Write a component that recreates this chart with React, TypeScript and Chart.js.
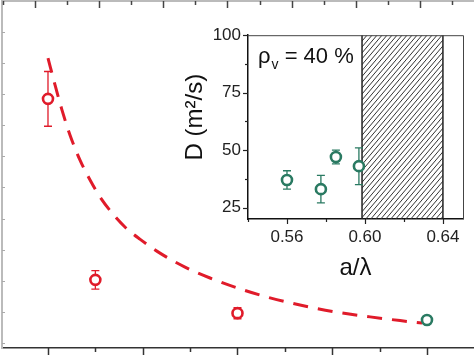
import React, { useEffect, useRef } from "react";
import { Chart, registerables } from "chart.js";

Chart.register(...registerables);

const FONT = "'Liberation Sans', Arial, sans-serif";
const RED = "#e01b2a";
const GREEN = "#2a7a62";

// ---------- main plot data ----------
const redX = [20, 22.5, 30];
const redY = [7.85, 2.03, 0.96];
const redErr = [0.88, 0.3, 0.18];
const greenX = [40];
const greenY = [0.74];
const greenErr = [0];
const fitX = [20.0, 20.37, 20.74, 21.16, 21.69, 22.22, 22.74, 23.38, 24.06, 24.85, 25.91, 27.23, 28.55, 30.13, 31.72, 33.3, 35.15, 37.0, 38.58, 39.74];
const fitY = [9.16, 8.3, 7.49, 6.69, 5.88, 5.24, 4.7, 4.18, 3.73, 3.34, 2.89, 2.44, 2.09, 1.74, 1.45, 1.22, 1.0, 0.84, 0.72, 0.64];
const mainXRange = [17.573, 42.481];
const mainYRange = [-0.161, 10.997];
const topRange = [-1.029, 13.685];

// ---------- inset data ----------
const insetX = [0.56, 0.5774, 0.5851, 0.5969];
const insetY = [37, 33, 47, 43];
const insetErr = [4, 6, 3, 8];
const hatchRange = [0.5985, 0.64];
const insetXRange = [0.54, 0.6503];
const insetYRange = [20, 100];
const insetXLabels = ["0.56", "0.60", "0.64"];
const insetYLabels = [25, 50, 75, 100];

const errorBarPlugin = {
  id: "errorBars",
  beforeDatasetsDraw(chart: any) {
    const { ctx } = chart;
    chart.data.datasets.forEach((ds: any, i: number) => {
      if (!ds.errors) return;
      const meta = chart.getDatasetMeta(i);
      const xs = chart.scales[meta.xAxisID];
      const ys = chart.scales[meta.yAxisID];
      ctx.save();
      ctx.strokeStyle = ds.borderColor;
      ctx.lineWidth = 1.3;
      ds.data.forEach((p: any, j: number) => {
        const e = ds.errors[j];
        if (!e) return;
        const x = xs.getPixelForValue(p.x);
        const y1 = ys.getPixelForValue(p.y - e);
        const y2 = ys.getPixelForValue(p.y + e);
        ctx.beginPath();
        ctx.moveTo(x, y1);
        ctx.lineTo(x, y2);
        ctx.moveTo(x - 4, y1);
        ctx.lineTo(x + 4, y1);
        ctx.moveTo(x - 4, y2);
        ctx.lineTo(x + 4, y2);
        ctx.stroke();
      });
      ctx.restore();
    });
  },
};

type TickSpec = { id: string; side: string; major: number; minor: number; color: string; width: number; isMajor: (v: number) => boolean };

const makeTickPlugin = (specs: TickSpec[]) => ({
  id: "tickMarks",
  afterDraw(chart: any) {
    const { ctx, chartArea: a } = chart;
    specs.forEach((s) => {
      const sc = chart.scales[s.id];
      ctx.save();
      ctx.strokeStyle = s.color;
      ctx.lineWidth = s.width;
      sc.ticks.forEach((t: any) => {
        const v = t.value;
        if (v < sc.min - 1e-9 || v > sc.max + 1e-9) return;
        const len = s.isMajor(v) ? s.major : s.minor;
        const p = Math.round(sc.getPixelForValue(v)) + 0.5;
        ctx.beginPath();
        if (s.side === "bottom-out") {
          ctx.moveTo(p, a.bottom);
          ctx.lineTo(p, a.bottom + len);
        } else if (s.side === "top-in") {
          ctx.moveTo(p, a.top);
          ctx.lineTo(p, a.top + len);
        } else if (s.side === "left-in") {
          ctx.moveTo(a.left, p);
          ctx.lineTo(a.left + len, p);
        } else if (s.side === "left-out") {
          ctx.moveTo(a.left, p);
          ctx.lineTo(a.left - len, p);
        }
        ctx.stroke();
      });
      ctx.restore();
    });
  },
});

const near = (v: number, step: number) => Math.abs(v / step - Math.round(v / step)) < 1e-6;

const hatchPlugin = {
  id: "hatch",
  beforeDatasetsDraw(chart: any) {
    const { ctx, chartArea: a } = chart;
    const xs = chart.scales.x;
    const x1 = xs.getPixelForValue(hatchRange[0]);
    const x2 = xs.getPixelForValue(hatchRange[1]);
    ctx.save();
    ctx.beginPath();
    ctx.rect(x1, a.top, x2 - x1, a.bottom - a.top);
    ctx.clip();
    ctx.strokeStyle = "#333";
    ctx.lineWidth = 1;
    const h = a.bottom - a.top;
    const slope = 0.85;
    ctx.beginPath();
    for (let x = x1 - h * slope - 10; x < x2 + 10; x += 5) {
      ctx.moveTo(x, a.bottom);
      ctx.lineTo(x + h * slope, a.top);
    }
    ctx.stroke();
    ctx.restore();
    ctx.save();
    ctx.strokeStyle = "#222";
    ctx.lineWidth = 1.5;
    ctx.beginPath();
    ctx.moveTo(x1, a.top);
    ctx.lineTo(x1, a.bottom);
    ctx.moveTo(x2, a.top);
    ctx.lineTo(x2, a.bottom);
    ctx.stroke();
    ctx.restore();
  },
};

const insetDecorPlugin = {
  id: "insetDecor",
  beforeDraw(chart: any) {
    const { ctx, chartArea: a } = chart;
    ctx.save();
    ctx.fillStyle = "#fff";
    ctx.fillRect(a.left, a.top, a.right - a.left, a.bottom - a.top);
    ctx.restore();
  },
  afterDraw(chart: any) {
    const { ctx, chartArea: a } = chart;
    ctx.save();
    ctx.strokeStyle = "#444";
    ctx.lineWidth = 1;
    ctx.beginPath();
    ctx.moveTo(a.left, a.top + 0.5);
    ctx.lineTo(a.right + 0.5, a.top + 0.5);
    ctx.lineTo(a.right + 0.5, a.bottom);
    ctx.stroke();
    // rho_v label
    ctx.fillStyle = "#111";
    ctx.textBaseline = "alphabetic";
    ctx.textAlign = "left";
    let x = a.left + 10;
    const y = a.top + 28;
    ctx.font = `22px ${FONT}`;
    ctx.fillText("ρ", x, y);
    x += ctx.measureText("ρ").width + 1;
    ctx.font = `14px ${FONT}`;
    ctx.fillText("v", x, y + 6);
    x += ctx.measureText("v").width;
    ctx.font = `22px ${FONT}`;
    ctx.fillText(" = 40 %", x, y);
    // y title
    ctx.translate(a.left - 53, a.top + 82);
    ctx.rotate(-Math.PI / 2);
    ctx.textAlign = "center";
    ctx.textBaseline = "middle";
    ctx.font = `24px ${FONT}`;
    ctx.fillText("D (m²/s)", 0, 0);
    ctx.restore();
  },
};

export default function App() {
  const mainRef = useRef<HTMLCanvasElement>(null);
  const insetRef = useRef<HTMLCanvasElement>(null);

  useEffect(() => {
    document.body.style.margin = "0";
    Chart.defaults.font.family = FONT;

    const main = new Chart(mainRef.current!, {
      type: "scatter",
      data: {
        datasets: [
          {
            type: "line",
            data: fitX.map((x, i) => ({ x, y: fitY[i] })),
            borderColor: RED,
            borderWidth: 3,
            borderDash: [15, 10],
            pointRadius: 0,
            tension: 0.4,
            cubicInterpolationMode: "monotone",
            fill: false,
            order: 2,
          } as any,
          {
            data: redX.map((x, i) => ({ x, y: redY[i] })),
            errors: redErr,
            borderColor: RED,
            backgroundColor: "#fff",
            pointRadius: 5,
            pointBorderWidth: 2.6,
            pointBackgroundColor: "#fff",
            pointBorderColor: RED,
            order: 1,
          } as any,
          {
            data: greenX.map((x, i) => ({ x, y: greenY[i] })),
            errors: greenErr,
            borderColor: GREEN,
            backgroundColor: "#fff",
            pointRadius: 5,
            pointBorderWidth: 2.6,
            pointBackgroundColor: "#fff",
            pointBorderColor: GREEN,
            order: 0,
          } as any,
        ],
      },
      options: {
        animation: false,
        responsive: false,
        devicePixelRatio: 1,
        layout: { padding: 0, autoPadding: false },
        plugins: { legend: { display: false }, tooltip: { enabled: false } },
        scales: {
          x: {
            type: "linear",
            position: "bottom",
            min: mainXRange[0],
            max: mainXRange[1],
            ticks: { display: false, stepSize: 2.5, includeBounds: false },
            grid: { drawOnChartArea: false, drawTicks: false },
            border: { color: "#333", width: 1.5 },
            afterFit: (s: any) => { s.height = 7; },
          },
          x2: {
            type: "linear",
            position: "top",
            min: topRange[0],
            max: topRange[1],
            ticks: { display: false, stepSize: 1, includeBounds: false },
            grid: { drawOnChartArea: false, drawTicks: false },
            border: { color: "#bbb", width: 2 },
            afterFit: (s: any) => { s.height = 1; },
          },
          y: {
            type: "linear",
            min: mainYRange[0],
            max: mainYRange[1],
            ticks: { display: false, stepSize: 1, includeBounds: false },
            grid: { drawOnChartArea: false, drawTicks: false },
            border: { color: "#bbb", width: 2 },
            afterFit: (s: any) => { s.width = 2; },
          },
        } as any,
      },
      plugins: [
        errorBarPlugin,
        makeTickPlugin([
          { id: "x", side: "bottom-out", major: 7, minor: 4, color: "#333", width: 1.5, isMajor: (v) => near(v, 5) },
          { id: "x2", side: "top-in", major: 7, minor: 4, color: "#444", width: 1.5, isMajor: (v) => near(v, 2) },
          { id: "y", side: "left-in", major: 3, minor: 3, color: "#aaa", width: 1, isMajor: () => true },
        ]),
      ],
    });

    const inset = new Chart(insetRef.current!, {
      type: "scatter",
      data: {
        datasets: [
          {
            data: insetX.map((x, i) => ({ x, y: insetY[i] })),
            errors: insetErr,
            borderColor: GREEN,
            backgroundColor: "#fff",
            pointRadius: 5,
            pointBorderWidth: 2.6,
            pointBackgroundColor: "#fff",
            pointBorderColor: GREEN,
          } as any,
        ],
      },
      options: {
        animation: false,
        responsive: false,
        devicePixelRatio: 1,
        layout: { padding: { top: 14, right: 11, left: 0, bottom: 0 }, autoPadding: false },
        plugins: { legend: { display: false }, tooltip: { enabled: false } },
        scales: {
          x: {
            type: "linear",
            min: insetXRange[0],
            max: insetXRange[1],
            ticks: {
              stepSize: 0.02,
              includeBounds: false,
              autoSkip: false,
              maxRotation: 0,
              padding: 8,
              color: "#222",
              font: { size: 17, family: FONT },
              callback: (v: any) => {
                const s = Number(v).toFixed(2);
                return insetXLabels.includes(s) ? s : "";
              },
            },
            grid: { drawOnChartArea: false, drawTicks: false },
            border: { color: "#111", width: 1.5 },
            title: { display: true, text: "a/λ", color: "#111", font: { size: 24, family: FONT }, padding: { top: 0, bottom: 7 } },
            afterFit: (s: any) => { s.height = 71; },
          },
          y: {
            type: "linear",
            min: insetYRange[0],
            max: insetYRange[1],
            ticks: {
              stepSize: 12.5,
              includeBounds: false,
              autoSkip: false,
              padding: 7,
              color: "#222",
              font: { size: 17, family: FONT },
              callback: (v: any) => (insetYLabels.includes(Number(v)) ? String(v) : ""),
            },
            grid: { drawOnChartArea: false, drawTicks: false },
            border: { color: "#111", width: 1.5 },
            afterFit: (s: any) => { s.width = 73; },
          },
        } as any,
      },
      plugins: [
        insetDecorPlugin,
        hatchPlugin,
        errorBarPlugin,
        makeTickPlugin([
          { id: "x", side: "bottom-out", major: 5, minor: 3, color: "#222", width: 1.2, isMajor: (v) => insetXLabels.includes(Number(v).toFixed(2)) },
          { id: "y", side: "left-out", major: 5, minor: 3, color: "#222", width: 1.2, isMajor: (v) => insetYLabels.includes(Number(v)) },
        ]),
      ],
    });

    return () => {
      main.destroy();
      inset.destroy();
    };
  }, []);

  return (
    <div style={{ position: "relative", width: 474, height: 355, background: "#fff", overflow: "hidden" }}>
      <canvas ref={mainRef} width={474} height={355} style={{ position: "absolute", left: 0, top: 0 }} />
      <canvas ref={insetRef} width={299} height={272} style={{ position: "absolute", left: 175, top: 18 }} />
    </div>
  );
}
